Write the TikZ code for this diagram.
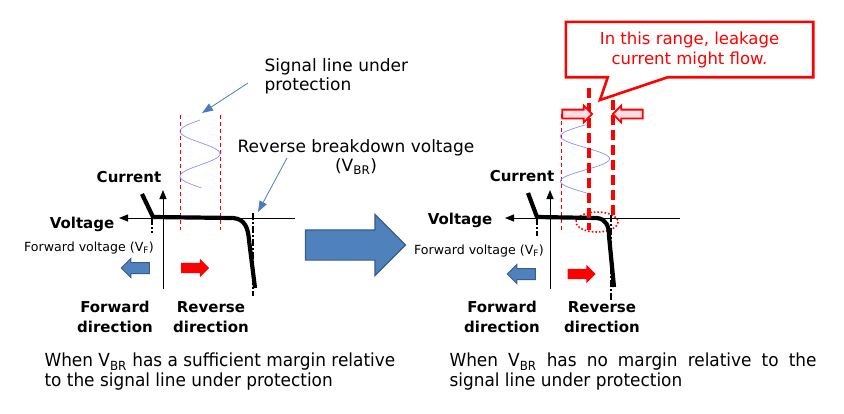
\documentclass[tikz,border=0pt]{standalone}
\usepackage{fontspec}
\setmainfont{DejaVu Sans}
\newfontfamily\capfont[FakeStretch=0.94]{DejaVu Sans}
\usetikzlibrary{arrows.meta,shapes.arrows,calc}
\definecolor{steel}{RGB}{79,129,189}
\definecolor{steeldark}{RGB}{56,93,138}
\definecolor{leader}{RGB}{74,126,187}
\definecolor{wave}{RGB}{140,140,255}
\definecolor{pinkfill}{RGB}{255,222,230}
\begin{document}
\begin{tikzpicture}[x=1pt,y=-1pt,
		axis/.style={line width=0.9pt,-{Triangle[width=7pt,length=9pt]}},
		leadline/.style={draw=leader,line width=0.8pt,-{Triangle[width=8pt,length=11pt]}},
		curve/.style={line width=4.2pt,line join=round},
		dashdot/.style={line width=1.6pt,dash pattern=on 7pt off 2pt on 2pt off 2pt},
		thinred/.style={draw=red,line width=0.8pt,dash pattern=on 4pt off 3pt},
		thickred/.style={draw=red,line width=3.5pt,dash pattern=on 10pt off 5pt},
		sigwave/.style={draw=wave,line width=0.7pt},
		bigtext/.style={font=\fontsize{17}{19}\selectfont},
		boldtext/.style={font=\fontsize{15}{20}\selectfont\bfseries,align=center},
		smalltext/.style={font=\fontsize{12.6}{14}\selectfont},
		captext/.style={font=\capfont\fontsize{18}{20}\selectfont,align=left,anchor=west},
		dirarrow/.style={single arrow,inner sep=5pt,minimum height=28pt,
			single arrow head extend=4pt,single arrow head indent=0pt},
		fwdarrow/.style={dirarrow,fill=steel,draw=steeldark,line width=1pt,shape border rotate=180},
		revarrow/.style={dirarrow,fill=red},
		rangearrow/.style={single arrow,inner sep=3.5pt,minimum height=30pt,
			single arrow head extend=4pt,draw=red,line width=1.8pt,fill=pinkfill}
	]
	\useasboundingbox (0,0) rectangle (844,413);

	% left: sufficient margin
	\coordinate (ia) at (163,289);
	\coordinate (ib) at (163,190);
	\coordinate (va) at (295,218);
	\coordinate (vb) at (119,218);
	\draw[axis] (ia) -- (ib);
	\draw[axis] (va) -- (vb);
	\draw[thinred] (180,115) -- (180,230);
	\draw[thinred] (220,115) -- (220,230);
	\draw[sigwave] plot[domain=120:188,samples=80,smooth] ({200-20*sin(8*(\x-120))},\x);
	\draw[dashdot] (152,218) -- (152,233);
	\draw[dashdot] (253,213) -- (253,296);
	\draw[curve] (142,194) -- (153,217) -- (233,218)
		.. controls (245,219) and (248,228) .. (249,240) -- (255,288);

	\node[boldtext] (curl) at (129,177) {Current};
	\node[boldtext] (voll) at (82,224) {Voltage};
	\node[smalltext] (vfl) at (89,248) {Forward voltage (V\textsubscript{F})};
	\node[fwdarrow] (fwdl) at (138,268) {};
	\node[revarrow] (revl) at (192.5,268) {};
	\node[boldtext] (fdirl) at (115,317) {Forward\\direction};
	\node[boldtext] (rdirl) at (211,317) {Reverse\\direction};

	\node[bigtext,align=left,anchor=west] (sig) at (261,76.5) {Signal line under\\protection};
	\node[bigtext,align=center] (brk) at (356,157) {Reverse breakdown voltage\\(V\textsubscript{BR})};
	\coordinate (sigfrom) at (248,83);
	\coordinate (sigto) at (202,113);
	\coordinate (brkfrom) at (287,158);
	\coordinate (brkto) at (258,212);
	\draw[leadline] (sigfrom) -- (sigto);
	\draw[leadline] (brkfrom) -- (brkto);

	\node[single arrow,inner sep=14.5pt,minimum height=100pt,
		single arrow head extend=15.5pt,single arrow head indent=0pt,
		fill=steel,draw=steeldark,line width=1.2pt] (move) at (348,245) {};

	% right: no margin
	\coordinate (ic) at (550,289);
	\coordinate (id) at (550,190);
	\coordinate (vc) at (680,218);
	\coordinate (vd) at (505,218);
	\draw[axis] (ic) -- (id);
	\draw[axis] (vc) -- (vd);
	\draw[thinred] (561,114) -- (561,233);
	\draw[sigwave] plot[domain=125:193,samples=80,smooth] ({585-24.5*sin(8*(\x-125))},\x);
	\draw[red,line width=1.6pt,dotted] (597,222) ellipse[x radius=21,y radius=10];
	\draw[dashdot] (537,218) -- (537,236);
	\draw[dashdot] (611,215) -- (611,300);
	\draw[curve] (528,193) -- (537,217) -- (597,218)
		.. controls (606,219) and (609,226) .. (609,236) -- (614,287);
	\draw[thickred] (589,88) -- (589,230);
	\draw[thickred] (613,100) -- (613,215);
	\node[rangearrow] (rangel) at (575,114) {};
	\node[rangearrow,shape border rotate=180] (ranger) at (630,114) {};

	\node[boldtext] (curr) at (522,176) {Current};
	\node[boldtext] (volr) at (460,220) {Voltage};
	\node[smalltext] (vfr) at (479,251) {Forward voltage (V\textsubscript{F})};
	\node[fwdarrow] (fwdr) at (524,274) {};
	\node[revarrow] (revr) at (579,274) {};
	\node[boldtext] (fdirr) at (502,317) {Forward\\direction};
	\node[boldtext] (rdirr) at (602,317) {Reverse\\direction};

	\node[minimum width=247pt,minimum height=55pt,align=center,text=red,
		font=\fontsize{16.5}{20}\selectfont] (leak) at (689.5,49.5)
		{In this range, leakage\\current might flow.};
	\coordinate (leaktip) at (600,100);
	\draw[red,line width=2.6pt,line join=miter] (leak.north west) -- (leak.north east)
		-- (leak.south east) -- ($(leak.south west)+(102,0)$) -- (leaktip)
		-- ($(leak.south west)+(42,0)$) -- (leak.south west) -- cycle;

	% captions
	\node[captext] (capl) at (41,372)
		{When V\textsubscript{BR} has a sufficient margin relative\\to the signal line under protection};
	\node[captext] (capr) at (446,372)
		{\makebox[367pt][s]{When V\textsubscript{BR} has no margin relative to the}\\signal line under protection};
\end{tikzpicture}
\end{document}
